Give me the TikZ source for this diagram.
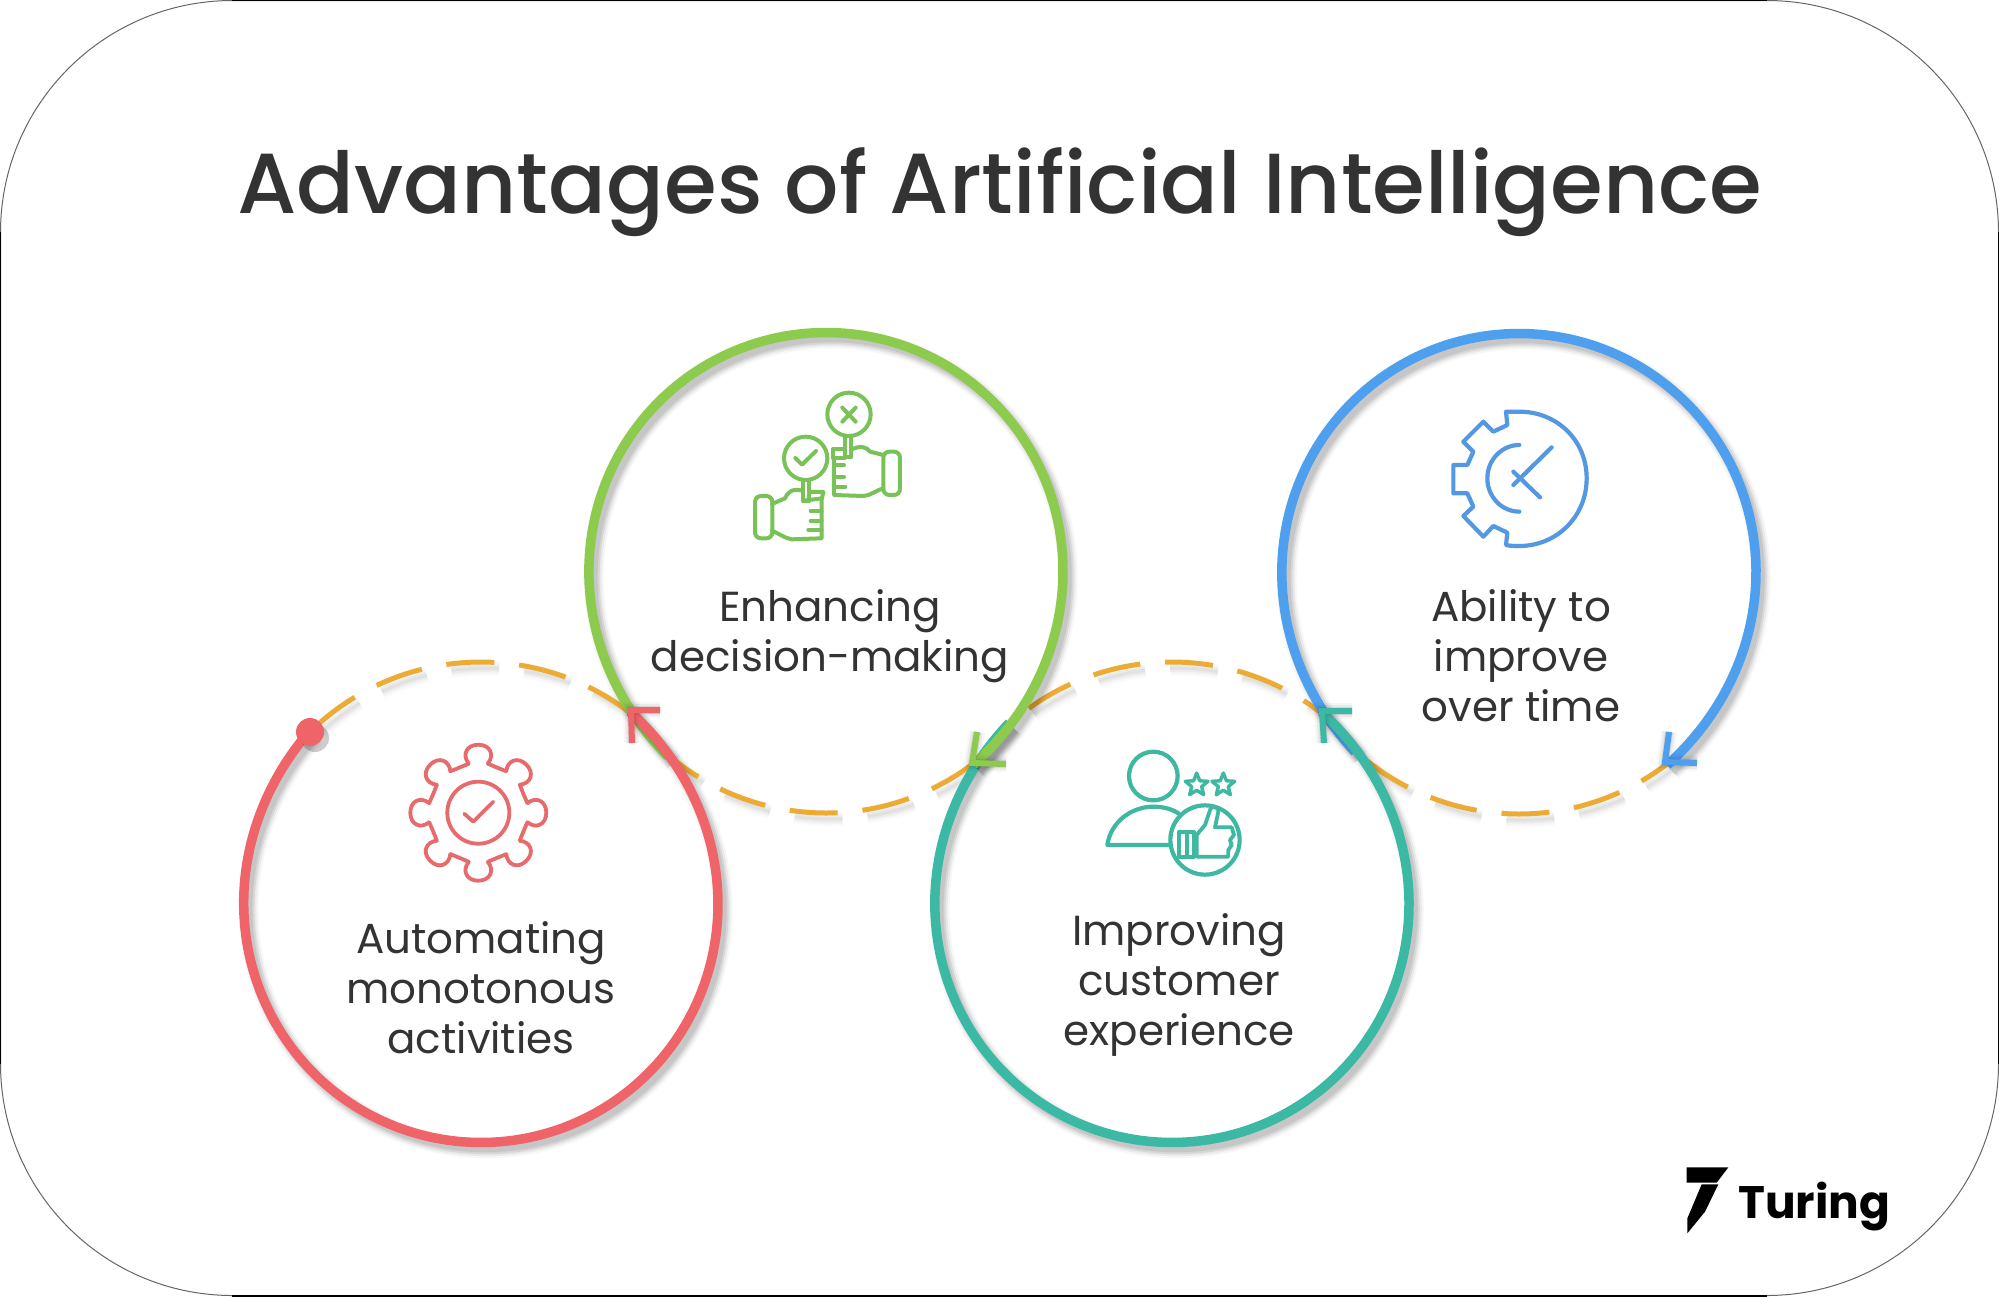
\documentclass[tikz,border=0pt]{standalone}
\usepackage{fontspec}
\setmainfont{Poppins}
\newfontfamily\titlefont{Poppins Medium}
\newfontfamily\bodyfont{Poppins}
\newfontfamily\logofont{Poppins Bold}
\usetikzlibrary{shapes.geometric}
\definecolor{ringred}{HTML}{EF6468}
\definecolor{ringgreen}{HTML}{8CCB4E}
\definecolor{ringblue}{HTML}{4E9FEE}
\definecolor{ringteal}{HTML}{3CB9A5}
\definecolor{dashorange}{HTML}{ECAB35}
\definecolor{inkdark}{HTML}{333333}
\definecolor{iconred}{HTML}{E76A6C}
\definecolor{icongreen}{HTML}{78C257}
\definecolor{iconblue}{HTML}{5398E0}
\definecolor{iconteal}{HTML}{3FB8A2}
\tikzset{
  bodytext/.style={text=inkdark,align=center,font=\bodyfont\fontsize{42}{50}\selectfont,inner sep=0pt},
  barbline/.style={line width=6pt,line join=miter},
  zoomthree/.style={x=0.3333pt,y=-0.3333pt},
}
% soft shadow + stroke. #1 options, #2 width, #3 path, #4 shadow strength
\newcommand{\softdraw}[4]{%
  \begin{scope}[shift={(5,6)}]
    \draw[#1,draw=black,draw opacity=.03*#4,line width=#2+10pt] #3;
    \draw[#1,draw=black,draw opacity=.05*#4,line width=#2+6pt] #3;
    \draw[#1,draw=black,draw opacity=.08*#4,line width=#2+2pt] #3;
    \draw[#1,draw=black,draw opacity=.08*#4,line width=#2-2pt] #3;
  \end{scope}
  \draw[#1,line width=#2] #3;
}
% solid ring arc: cx cy from to colour
\newcommand{\ringarc}[5]{%
  \softdraw{#5,line join=round}{9.5pt}{plot[samples=160,domain=#3:#4,variable=\t]
    ({#1+(236.5+8.5*pow(abs((\t-(#3+#4)/2)/((#4-#3)/2)),6))*cos(\t)},
     {#2-(236.5+8.5*pow(abs((\t-(#3+#4)/2)/((#4-#3)/2)),6))*sin(\t)})}{1}%
}
% dashed arc: cx cy from to phase
\newcommand{\dasharc}[5]{%
  \softdraw{dashorange,dash pattern=on 48pt off 25pt,dash phase=#5pt}{5pt}{plot[samples=80,domain=#3:#4,variable=\t]
    ({#1+244*cos(\t)},{#2-244*sin(\t)})}{0.5}%
}
\begin{document}
\begin{tikzpicture}[x=1pt,y=-1pt]
\useasboundingbox (0,0) rectangle (1999,1296);
\fill[white] (0,0) rectangle (1999,1296);
\draw[black!60,line width=1pt,rounded corners=232pt] (0.5,0.5) rectangle (1998.5,1295.5);
\draw[black,line width=2pt] (232,0) -- (1767,0) (232,1296) -- (1767,1296) (0,232) -- (0,1064) (1999,232) -- (1999,1064);

\node[font=\titlefont\fontsize{85.3}{100}\selectfont,text=inkdark,anchor=base,inner sep=0pt] (title) at (1000,213) {Advantages of Artificial Intelligence};

% dashed arcs
\dasharc{481}{906}{52.6}{133.5}{0}
\dasharc{826}{569}{-53}{-130}{0}
\dasharc{1172}{906}{52.4}{131}{27}
\dasharc{1519}{570}{-52.8}{-130}{18}

% blue
\ringarc{1519}{570}{-52.8}{228}{ringblue}
\coordinate (bluetip) at (1665,762);
\coordinate (bluea) at (1697,763);
\coordinate (blueb) at (1669,732);
\softdraw{ringblue,barbline}{6pt}{(bluea)--(bluetip)--(blueb)}{1}
% teal
\ringarc{1172}{906}{131.6}{412.4}{ringteal}
\coordinate (tealtip) at (1322,711);
\coordinate (teala) at (1352,711);
\coordinate (tealb) at (1324,743);
\softdraw{ringteal,barbline}{6pt}{(teala)--(tealtip)--(tealb)}{1}
% green
\ringarc{826}{569}{-53}{230}{ringgreen}
\coordinate (greentip) at (972,763);
\coordinate (greena) at (1006,764);
\coordinate (greenb) at (977,732);
\softdraw{ringgreen,barbline}{6pt}{(greena)--(greentip)--(greenb)}{1}
% red
\ringarc{481}{906}{134.5}{412.6}{ringred}
\coordinate (redtip) at (631,710);
\coordinate (reda) at (660,710);
\coordinate (redb) at (632,743);
\softdraw{ringred,barbline}{6pt}{(reda)--(redtip)--(redb)}{1}
\coordinate (reddot) at (310,732);
\fill[black,opacity=.2] ([shift={(5,6)}]reddot) circle (14);
\fill[ringred] (reddot) circle (14);

% texts
\node[bodytext] (t1) at (481,988) {Automating\\monotonous\\activities};
\node[bodytext] (t2) at (830,636) {Enhancing\\decision-making};
\node[bodytext] (t3) at (1179,985) {Improving\\customer\\experience};
\node[bodytext] (t4) at (1521,656) {Ability to\\improve\\over time};

% red gear icon
\begin{scope}[shift={(478.3,812.7)}]
  \foreach \a in {0,45,...,315} {
    \draw[iconred,line width=3.8pt,line cap=round,line join=round]
      ({\a-11}:50) .. controls ({\a-16}:60) and ({\a-10}:69) .. (\a:68)
      .. controls ({\a+10}:69) and ({\a+16}:60) .. ({\a+11}:50)
      .. controls ({\a+18}:49) and ({\a+27}:49) .. ({\a+34}:50);
  }
  \draw[iconred,line width=3.8pt] (0,0) circle (31);
  \draw[iconred,line width=3.8pt,line cap=round,line join=round] (-14,1) -- (-5,9) -- (15,-11);
\end{scope}

% green hands icon
\begin{scope}[shift={(720,370)},zoomthree]
  \tikzset{every path/.style={icongreen,line width=4pt,line cap=round,line join=round}}
  \draw (387,133) circle (65);
  \draw (367,113) -- (407,155) (407,113) -- (367,155);
  \draw (374,200) -- (374,262) -- (392,262) -- (392,200);
  \draw (374,236) -- (340,236) -- (340,265) -- (374,265);
  \draw (392,240) .. controls (420,225) and (440,230) .. (450,245) -- (490,255);
  \draw (342,265) -- (342,375) -- (430,378) .. controls (450,378) and (470,360) .. (490,355);
  \draw (342,285) -- (372,285) (342,320) -- (372,320) (342,350) -- (376,350);
  \draw[rounded corners=6pt] (490,245) rectangle (540,375);
  \draw (257,265) circle (65);
  \draw (226,264) -- (246,284) -- (288,243);
  \draw (249,333) -- (249,392) -- (268,392) -- (268,333);
  \draw (268,366) -- (310,366) -- (306,385) -- (250,392);
  \draw (249,362) .. controls (215,355) and (205,365) .. (195,385) -- (156,402);
  \draw (305,385) -- (305,505) -- (215,508) .. controls (195,505) and (175,490) .. (156,482);
  \draw (272,422) -- (305,422) (272,452) -- (305,452) (265,480) -- (305,480);
  \draw[rounded corners=6pt] (105,378) rectangle (157,505);
\end{scope}

% blue clock gear icon
\begin{scope}[shift={(1430,390)},zoomthree]
  \tikzset{every path/.style={iconblue,line width=4.2pt,line cap=round,line join=round}}
  \draw (228,65) -- (232,105) -- (190,125) -- (160,95) -- (100,155) -- (130,185) -- (112,225) -- (70,225) -- (70,310) -- (112,310) -- (130,350) -- (100,378) -- (160,440) -- (190,408) -- (232,428) -- (228,465) .. controls (240,468) and (255,468) .. (268,468)
    .. controls (380,468) and (470,380) .. (470,265) .. controls (470,150) and (380,65) .. (268,65) -- (228,65);
  \draw (268,165) .. controls (215,165) and (172,210) .. (172,265) .. controls (172,320) and (215,365) .. (268,365);
  \draw (250,245) -- (330,322);
  \draw (250,285) -- (365,172);
\end{scope}

% teal person icon
\begin{scope}[shift={(1090,740)},zoomthree]
  \tikzset{every path/.style={iconteal,line width=4.2pt,line cap=round,line join=round}}
  \draw (190,108) circle (73);
  \draw (240,315) -- (52,315) .. controls (62,245) and (125,200) .. (190,200) .. controls (220,200) and (245,207) .. (265,220);
  \draw (345,300) circle (104);
  \draw[line width=3.8pt] (320,350) -- (320,285) -- (345,255) -- (362,205) .. controls (372,195) and (388,205) .. (385,215) -- (375,262) -- (425,262) -- (432,285) -- (420,300) -- (425,315) -- (415,330) -- (415,350) -- cycle;
  \draw[line width=3.8pt] (268,275) rectangle (312,350) (290,275) -- (290,350);
  \node[star,star points=5,star point ratio=2.3,draw=iconteal,line width=3.4pt,minimum size=24pt,inner sep=0pt] (star1) at (320,135) {};
  \node[star,star points=5,star point ratio=2.3,draw=iconteal,line width=3.4pt,minimum size=24pt,inner sep=0pt] (star2) at (400,135) {};
\end{scope}

% Turing logo
\begin{scope}[shift={(1660,1150)},zoomthree]
  \fill[black] (80,52) -- (205,52) -- (170,98) -- (80,98) -- cycle;
  \fill[black] (125,103) -- (175,103) -- (135,185) -- (82,250) -- (82,205) -- cycle;
\end{scope}
\node[font=\logofont\fontsize{45.5}{50}\selectfont,text=black,anchor=base west,inner sep=0pt] (turing) at (1738,1218) {Turing};
\end{tikzpicture}
\end{document}
